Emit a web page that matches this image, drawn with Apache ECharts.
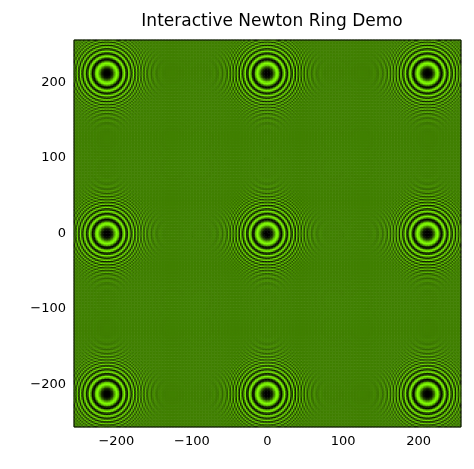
<!DOCTYPE html>
<html><head><meta charset="utf-8">
<script src="https://cdn.jsdelivr.net/npm/echarts@6/dist/echarts.min.js"></script>
<style>html,body{margin:0;padding:0;background:#fff}#c{width:474px;height:469px}</style>
</head><body><div id="c"></div>
<script>
const titleText = 'Interactive Newton Ring Demo';
const ringCentersX = [-212, 0, 212];
const ringCentersY = [-212, 0, 212];
const ringCoef = [0.009];
const axisMin = [-256], axisMax = [256];
const tickValues = [-200, -100, 0, 100, 200];
const N = 256;
const step = (axisMax[0] - axisMin[0]) / N;
function inten(x, y) {
  let best = 1e9;
  for (const cx of ringCentersX) for (const cy of ringCentersY) {
    const d = (x - cx) ** 2 + (y - cy) ** 2; if (d < best) best = d;
  }
  const s = Math.sin(ringCoef[0] * best); return [s * s, Math.sqrt(best)];
}
const cats = []; for (let i = 0; i < N; i++) cats.push(i);
const data = [];
for (let i = 0; i < N; i++) for (let j = 0; j < N; j++) {
  const xc = axisMin[0] + (i + 0.5) * step, yc = axisMin[0] + (j + 0.5) * step;
  const [v, r] = inten(xc, yc);
  const g = 2 * ringCoef[0] * r * step;
  const damp = Math.exp(-Math.pow(g / 1.9, 4));
  data.push([i, j, 0.5 + (v - 0.5) * damp]);
}
const gridPos = { left: 74, top: 40, width: 387, height: 387 };
const chart = echarts.init(document.getElementById('c'));
const font = 'DejaVu Sans';
const lbl = { fontFamily: font, fontSize: 13, color: '#000', customValues: tickValues, formatter: v => String(v).replace('-', '\u2212') };
chart.setOption({
  animation: false,
  title: { text: titleText, left: 267, top: 8, textAlign: 'center', textStyle: { fontFamily: font, fontSize: 17, fontWeight: 'normal', color: '#000' } },
  grid: [Object.assign({ show: true, borderColor: '#000', borderWidth: 1, backgroundColor: 'transparent', z: 5 }, gridPos), Object.assign({}, gridPos)],
  xAxis: [
    { type: 'value', gridIndex: 0, min: axisMin[0], max: axisMax[0], interval: 100, splitLine: { show: false },
      axisLine: { show: false }, axisTick: { show: true, length: 5, lineStyle: { color: '#000' }, customValues: tickValues },
      axisLabel: Object.assign({ margin: 8 }, lbl) },
    { type: 'category', gridIndex: 1, data: cats, show: false }
  ],
  yAxis: [
    { type: 'value', gridIndex: 0, min: axisMin[0], max: axisMax[0], interval: 100, splitLine: { show: false },
      axisLine: { show: false }, axisTick: { show: true, length: 5, lineStyle: { color: '#000' }, customValues: tickValues },
      axisLabel: Object.assign({ margin: 8 }, lbl) },
    { type: 'category', gridIndex: 1, data: cats, show: false }
  ],
  visualMap: { show: false, min: 0, max: 1, seriesIndex: 0, inRange: { color: ['#000000', '#80ff00'] } },
  series: [{ type: 'heatmap', xAxisIndex: 1, yAxisIndex: 1, data: data, progressive: 0, itemStyle: { borderWidth: 0 } }]
});
</script></body></html>
